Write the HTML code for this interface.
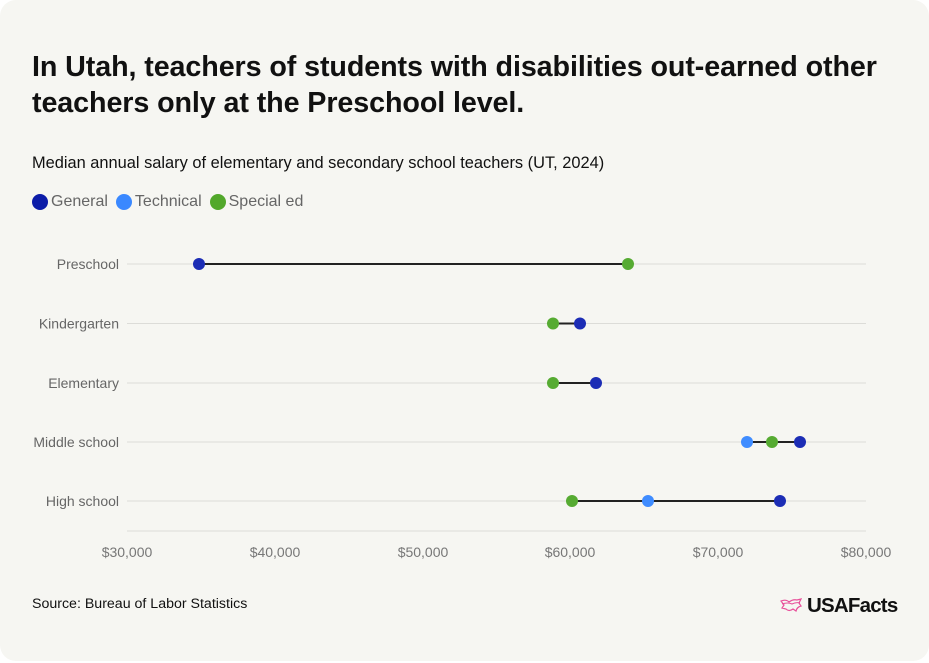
<!DOCTYPE html>
<html>
<head>
<meta charset="utf-8">
<style>
html,body{margin:0;padding:0;background:#ffffff;}
body{width:929px;height:663px;position:relative;overflow:hidden;font-family:"Liberation Sans",sans-serif;}
.card{position:absolute;left:0;top:0;width:929px;height:661px;background:#f6f6f2;border-radius:16px;}
.title{position:absolute;left:32px;top:49px;font-size:28.7px;line-height:36px;font-weight:bold;color:#111;letter-spacing:-0.1px;white-space:nowrap;}
.sub{position:absolute;left:32px;top:154px;font-size:16.4px;color:#111;white-space:nowrap;}
.legend{position:absolute;left:32px;top:193px;font-size:16px;color:#666;display:flex;align-items:center;white-space:nowrap;}
.legend .d{width:16px;height:16px;border-radius:50%;display:inline-block;margin-right:3px;}
.legend span.t{margin-right:8px;}
.src{position:absolute;left:32px;top:596px;font-size:14.2px;color:#111;}
.logo{position:absolute;left:780px;top:594px;display:flex;align-items:center;}
.logo span{font-size:20.5px;font-weight:bold;color:#111;letter-spacing:-0.8px;margin-left:5px;}
</style>
</head>
<body>
<div class="card"></div>
<div class="title">In Utah, teachers of students with disabilities out-earned other<br>teachers only at the Preschool level.</div>
<div class="sub">Median annual salary of elementary and secondary school teachers (UT, 2024)</div>
<div class="legend">
<span class="d" style="background:#0c1ca8"></span><span class="t">General</span>
<span class="d" style="background:#3a88ff"></span><span class="t">Technical</span>
<span class="d" style="background:#52a82b"></span><span class="t">Special ed</span>
</div>
<svg style="position:absolute;left:0;top:0" width="929" height="663" font-family="Liberation Sans, sans-serif">
<g stroke="#dcdcd8" stroke-width="1">
<line x1="127" y1="264" x2="866" y2="264"/>
<line x1="127" y1="323.5" x2="866" y2="323.5"/>
<line x1="127" y1="383" x2="866" y2="383"/>
<line x1="127" y1="442" x2="866" y2="442"/>
<line x1="127" y1="501" x2="866" y2="501"/>
<line x1="127" y1="531" x2="866" y2="531"/>
</g>
<g font-size="14" fill="#666" text-anchor="end">
<text x="119" y="269">Preschool</text>
<text x="119" y="328.5">Kindergarten</text>
<text x="119" y="388">Elementary</text>
<text x="119" y="447">Middle school</text>
<text x="119" y="506">High school</text>
</g>
<g font-size="14" fill="#777" text-anchor="middle">
<text x="127" y="557">$30,000</text>
<text x="275" y="557">$40,000</text>
<text x="423" y="557">$50,000</text>
<text x="570" y="557">$60,000</text>
<text x="718" y="557">$70,000</text>
<text x="866" y="557">$80,000</text>
</g>
<g stroke="#222" stroke-width="2">
<line x1="199" y1="264" x2="628" y2="264"/>
<line x1="553" y1="323.5" x2="580" y2="323.5"/>
<line x1="553" y1="383" x2="596" y2="383"/>
<line x1="747" y1="442" x2="800" y2="442"/>
<line x1="572" y1="501" x2="780" y2="501"/>
</g>
<g>
<circle cx="199" cy="264" r="6" fill="#1c2db5"/>
<circle cx="628" cy="264" r="6" fill="#56ab32"/>
<circle cx="553" cy="323.5" r="6" fill="#56ab32"/>
<circle cx="580" cy="323.5" r="6" fill="#1c2db5"/>
<circle cx="553" cy="383" r="6" fill="#56ab32"/>
<circle cx="596" cy="383" r="6" fill="#1c2db5"/>
<circle cx="747" cy="442" r="6" fill="#3f8cff"/>
<circle cx="772" cy="442" r="6" fill="#56ab32"/>
<circle cx="800" cy="442" r="6" fill="#1c2db5"/>
<circle cx="572" cy="501" r="6" fill="#56ab32"/>
<circle cx="648" cy="501" r="6" fill="#3f8cff"/>
<circle cx="780" cy="501" r="6" fill="#1c2db5"/>
</g>
</svg>
<div class="src">Source: Bureau of Labor Statistics</div>
<div class="logo">
<svg width="22" height="16" viewBox="0 0 22 16"><path d="M1 3 Q6 1 9 4 Q13 1 17 2 L21 1 L19 5 L21 8 Q17 9 16 13 L13 11 Q9 14 6 11 L2 10 L4 7 Z" fill="none" stroke="#e8509a" stroke-width="1.2"/><path d="M2 6 Q8 4 12 6 Q16 4 20 5" fill="none" stroke="#e8509a" stroke-width="1"/></svg>
<span>USAFacts</span>
</div>
</body>
</html>
